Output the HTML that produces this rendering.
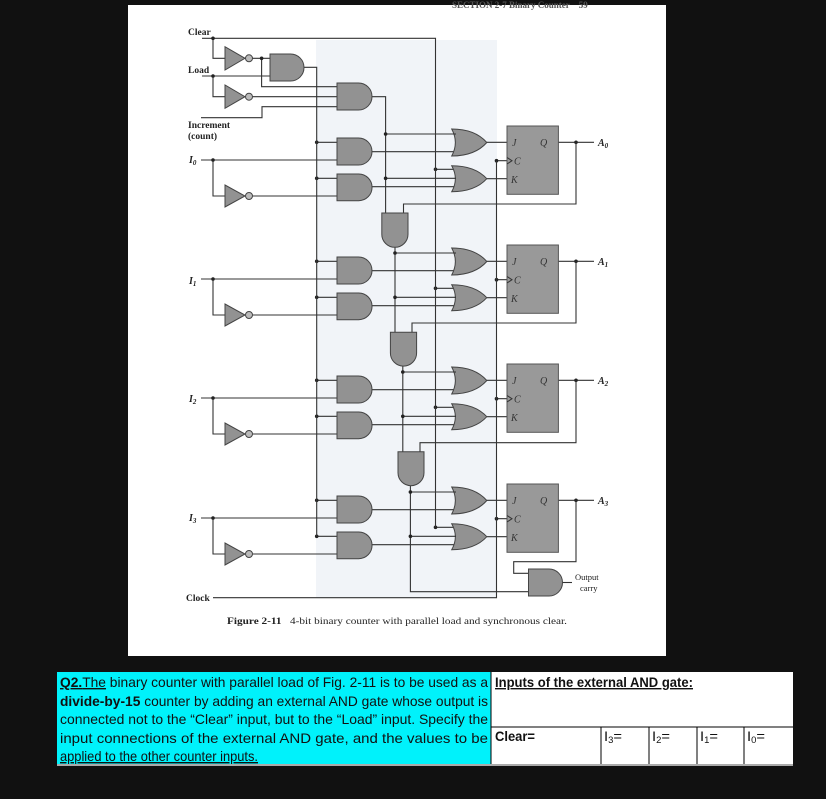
<!DOCTYPE html>
<html><head><meta charset="utf-8"><style>
html,body{margin:0;padding:0;background:#111;}
svg{display:block;}
</style></head><body>
<svg width="826" height="799" viewBox="0 0 826 799" xmlns="http://www.w3.org/2000/svg">
<defs>
<g id="stage">
  <path d="M201 160 H337 M213 160 V196 H225 M252.5 196 H337 M316.7 142.3 H337 M316.7 178.3 H337 M372 151.7 H456 M372 186.7 H456 M435.5 169.3 H456 M486.8 142.3 H507 M486.8 178.7 H507 M496.5 160.7 H507 M558.4 142.3 H594" fill="none" stroke="#333" stroke-width="1.1"/>
  <polygon points="225,185 225,207 245,196" fill="#929292" stroke="#444"/>
  <circle cx="249" cy="196" r="3.5" fill="#bbb" stroke="#444"/>
  <path d="M337 138 H358.5 A13.5 13.5 0 0 1 358.5 165 H337 Z" fill="#929292" stroke="#444"/>
  <path d="M337 174 H358.7 A13.3 13.3 0 0 1 358.7 200.7 H337 Z" fill="#929292" stroke="#444"/>
  <path d="M451.7 129 Q459 142.5 451.7 156 Q475 156 486.8 142.5 Q475 129 451.7 129 Z" fill="#929292" stroke="#444"/>
  <path d="M451.7 165.7 Q459 178.7 451.7 191.7 Q475 191.7 486.8 178.7 Q475 165.7 451.7 165.7 Z" fill="#929292" stroke="#444"/>
  <rect x="507" y="126" width="51.4" height="68.3" fill="#999" stroke="#555"/>
  <path d="M507 157.5 L512 160.7 L507 164" fill="none" stroke="#333"/>
  <g font-family="Liberation Serif, serif" font-style="italic" font-size="10" fill="#333">
    <text x="512" y="146">J</text><text x="540" y="146">Q</text><text x="514" y="164.5">C</text><text x="511" y="183">K</text>
  </g>
  <g fill="#222"><circle cx="213" cy="160" r="1.8"/><circle cx="316.7" cy="142.3" r="1.8"/><circle cx="316.7" cy="178.3" r="1.8"/><circle cx="435.5" cy="169.3" r="1.8"/><circle cx="496.5" cy="160.7" r="1.8"/><circle cx="576" cy="142.3" r="1.8"/></g>
</g>
</defs>
<rect x="128" y="5" width="538" height="651" fill="#fff"/>
<rect x="316" y="40" width="181" height="558" fill="#f1f4f8"/>
<text x="452" y="8" font-family="Liberation Serif, serif" font-size="9" font-weight="bold" fill="#555">SECTION 2-7 Binary Counter&#160;&#160;&#160;&#160;59</text>

<use href="#stage"/>
<use href="#stage" y="119"/>
<use href="#stage" y="238"/>
<use href="#stage" y="358"/>

<g fill="none" stroke="#333" stroke-width="1.1">
  <path d="M202 38.3 H435.5 V527.3 M213 38.3 V58.3 H225 M252.5 58.3 H270 M261.6 58.3 V86.7 H337"/>
  <path d="M202 76 H270 M213 76 V96.7 H225 M252.5 96.7 H337 M304 67.3 H316.7 V536.3"/>
  <path d="M201 117.7 H262 V106.7 H337"/>
  <path d="M372 96.7 H385.6 V213 M385.6 134 H456 M385.6 178.3 H456"/>
  <path d="M576 142.3 V204 H403.5 V213"/>
  <path d="M395 247.3 V332.3 M395 253 H456 M395 297.3 H456"/>
  <path d="M576 261.3 V323 H412 V332.3"/>
  <path d="M402.8 366 V451.7 M402.8 372 H456 M402.8 416.3 H456"/>
  <path d="M576 380.3 V442.7 H420 V451.7"/>
  <path d="M410.4 485.7 V591.7 H528.5 M410.4 492 H456 M410.4 536.3 H456"/>
  <path d="M576 500.3 V561.7 H513.7 V573.3 H528.5"/>
  <path d="M562.6 582.5 H572"/>
  <path d="M213 597.7 H496.5 V160.7"/>
</g>
<polygon points="225,46.7 225,70 245,58.3" fill="#929292" stroke="#444"/>
<circle cx="249" cy="58.3" r="3.5" fill="#bbb" stroke="#444"/>
<polygon points="225,85 225,108.3 245,96.7" fill="#929292" stroke="#444"/>
<circle cx="249" cy="96.7" r="3.5" fill="#bbb" stroke="#444"/>
<path d="M270 54 H290.5 A13.5 13.5 0 0 1 290.5 81 H270 Z" fill="#929292" stroke="#444"/>
<path d="M337 83 H358.5 A13.5 13.5 0 0 1 358.5 110 H337 Z" fill="#929292" stroke="#444"/>
<path d="M381.8 213 V234.2 A13.1 13.1 0 0 0 408 234.2 V213 Z" fill="#929292" stroke="#444"/>
<path d="M390.4 332.3 V353 A13.1 13.1 0 0 0 416.6 353 V332.3 Z" fill="#929292" stroke="#444"/>
<path d="M398 451.7 V472.7 A13 13 0 0 0 424 472.7 V451.7 Z" fill="#929292" stroke="#444"/>
<path d="M528.5 569 H549 A13.5 13.5 0 0 1 549 596 H528.5 Z" fill="#929292" stroke="#444"/>
<g fill="#222">
  <circle cx="213" cy="38.3" r="1.8"/><circle cx="213" cy="76" r="1.8"/><circle cx="261.6" cy="58.3" r="1.8"/>
  <circle cx="385.6" cy="134" r="1.8"/><circle cx="385.6" cy="178.3" r="1.8"/>
  <circle cx="395" cy="253" r="1.8"/><circle cx="395" cy="297.3" r="1.8"/>
  <circle cx="402.8" cy="372" r="1.8"/><circle cx="402.8" cy="416.3" r="1.8"/>
  <circle cx="410.4" cy="492" r="1.8"/><circle cx="410.4" cy="536.3" r="1.8"/>
</g>
<g font-family="Liberation Serif, serif" font-weight="bold" font-size="9.5" fill="#222">
  <text x="188" y="35">Clear</text>
  <text x="188" y="73">Load</text>
  <text x="188" y="128">Increment</text>
  <text x="188" y="139">(count)</text>
  <text x="186" y="601">Clock</text>
  <text x="575" y="580" font-weight="normal" font-size="8.5">Output</text>
  <text x="580" y="591" font-weight="normal" font-size="8.5">carry</text>
</g>
<g font-family="Liberation Serif, serif" font-style="italic" font-weight="bold" font-size="10" fill="#222">
  <text x="189" y="163">I<tspan font-size="7" dy="2">0</tspan></text>
  <text x="189" y="284">I<tspan font-size="7" dy="2">1</tspan></text>
  <text x="189" y="402">I<tspan font-size="7" dy="2">2</tspan></text>
  <text x="189" y="521">I<tspan font-size="7" dy="2">3</tspan></text>
  <text x="598" y="146">A<tspan font-size="7" dy="2">0</tspan></text>
  <text x="598" y="265">A<tspan font-size="7" dy="2">1</tspan></text>
  <text x="598" y="384">A<tspan font-size="7" dy="2">2</tspan></text>
  <text x="598" y="504">A<tspan font-size="7" dy="2">3</tspan></text>
</g>
<text x="227" y="624" font-family="Liberation Serif, serif" font-size="9.5" fill="#222" textLength="340" lengthAdjust="spacingAndGlyphs"><tspan font-weight="bold">Figure 2-11</tspan>&#160;&#160;&#160;4-bit binary counter with parallel load and synchronous clear.</text>

<!-- bottom question -->
<rect x="57" y="672" width="434" height="92" fill="#00f2fb"/>
<rect x="491" y="672" width="302" height="92" fill="#fff"/>
<g stroke="#000" stroke-width="1" fill="none">
  <path d="M491 672 V764 M491 727 H793 M601 727 V764 M649 727 V764 M697 727 V764 M744 727 V764"/>
</g>
<path d="M57 765 H793" stroke="#ddd" stroke-width="1.5"/>
<g font-family="Liberation Sans, Arial, sans-serif" font-size="14" fill="#111">
  <text x="60" y="687" textLength="428" lengthAdjust="spacingAndGlyphs"><tspan font-weight="bold" text-decoration="underline">Q2.</tspan><tspan text-decoration="underline">The</tspan> binary counter with parallel load of Fig. 2-11 is to be used as a</text>
  <text x="60" y="706" textLength="428" lengthAdjust="spacingAndGlyphs"><tspan font-weight="bold">divide-by-15</tspan> counter by adding an external AND gate whose output is</text>
  <text x="60" y="724" textLength="428" lengthAdjust="spacingAndGlyphs">connected not to the “Clear” input, but to the “Load” input. Specify the</text>
  <text x="60" y="743" textLength="428" lengthAdjust="spacingAndGlyphs">input connections of the external AND gate, and the values to be</text>
  <text x="60" y="761" textLength="198" lengthAdjust="spacingAndGlyphs" text-decoration="underline">applied to the other counter inputs.</text>
  <text x="495" y="687" font-weight="bold" text-decoration="underline" textLength="198" lengthAdjust="spacingAndGlyphs">Inputs of the external AND gate:</text>
  <text x="495" y="741" font-weight="bold" textLength="40" lengthAdjust="spacingAndGlyphs">Clear=</text>
  <text x="604" y="741" textLength="18" lengthAdjust="spacingAndGlyphs">I<tspan font-size="9" dy="2">3</tspan><tspan dy="-2">=</tspan></text>
  <text x="652" y="741" textLength="18" lengthAdjust="spacingAndGlyphs">I<tspan font-size="9" dy="2">2</tspan><tspan dy="-2">=</tspan></text>
  <text x="700" y="741" textLength="18" lengthAdjust="spacingAndGlyphs">I<tspan font-size="9" dy="2">1</tspan><tspan dy="-2">=</tspan></text>
  <text x="747" y="741" textLength="18" lengthAdjust="spacingAndGlyphs">I<tspan font-size="9" dy="2">0</tspan><tspan dy="-2">=</tspan></text>
</g>
</svg>
</body></html>
